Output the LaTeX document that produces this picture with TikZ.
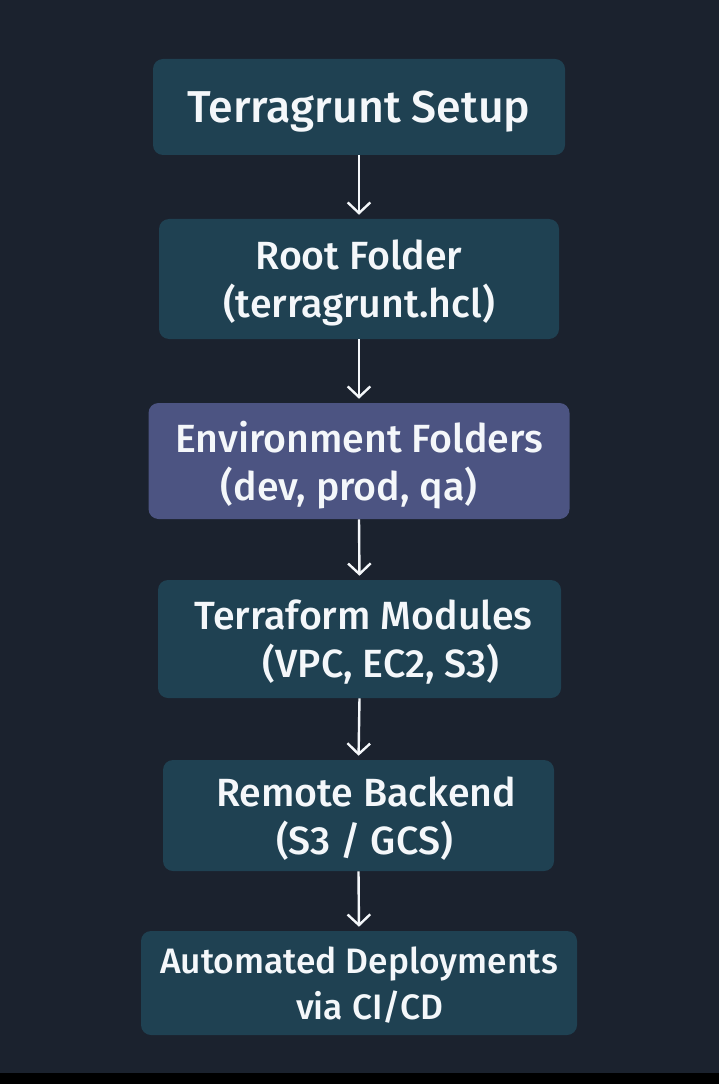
\documentclass[tikz,border=0pt]{standalone}
\usepackage{fontspec}
\setmainfont{Fira Sans}[BoldFont={Fira Sans Medium}]
\usetikzlibrary{arrows.meta}
\definecolor{bgcol}{RGB}{27,34,46}
\definecolor{tealbox}{RGB}{31,65,82}
\definecolor{purplebox}{RGB}{76,84,130}
\definecolor{txtcol}{RGB}{244,247,250}
\tikzstyle{step box}=[rectangle,rounded corners=7.5pt,fill=tealbox,draw=none,inner sep=0pt,text=txtcol,text depth=0pt,align=center,anchor=center,font=\bfseries\fontsize{29.5}{36}\selectfont]
\tikzstyle{flow}=[draw=txtcol,line width=1.8pt,-{Straight Barb[length=8pt,width=17pt,line width=1.8pt]},shorten >=3pt]

\begin{document}
\begin{tikzpicture}[x=0.75pt,y=-0.75pt]
	\fill[bgcol] (0,0) rectangle (719,1073);
	\fill[black] (0,1073) rectangle (719,1084);
	\useasboundingbox (0,0) rectangle (719,1084);

	\node[step box, minimum width=309pt, minimum height=72pt, font=\bfseries\fontsize{33.5}{36}\selectfont](setup) at (359,107){Terragrunt Setup};
	\node[step box, minimum width=300pt, minimum height=90pt](root) at (359,279){Root Folder\\(terragrunt.hcl)};
	\node[step box, minimum width=315.75pt, minimum height=87pt, fill=purplebox](envs) at (359,461){Environment Folders\\(dev, prod, qa)\hspace*{0.5em}};
	\node[step box, minimum width=302.25pt, minimum height=88.5pt](modules) at (359.5,639){\hspace*{0.2em}Terraform Modules\\\hspace*{1.1em}(VPC, EC2, S3)};
	\node[step box, minimum width=293.25pt, minimum height=83.25pt](backend) at (358.5,815.5){\hspace*{0.4em}Remote Backend\\\hspace*{0.3em}(S3 / GCS)};
	\node[step box, minimum width=327pt, minimum height=78pt, font=\bfseries\fontsize{26.5}{34}\selectfont](deploy) at (359,983){Automated Deployments\\\hspace*{0.6em}via CI/CD};

	%\draw[flow] (setup) -- (root);
	\draw[flow] (setup.south) -- (root.north);
	\draw[flow] (root.south) -- (envs.north);
	\draw[flow] (envs.south) -- (modules.north);
	\draw[flow] (modules.south) -- (backend.north);
	\draw[flow] (backend.south) -- (deploy.north);

\end{tikzpicture}
\end{document}
